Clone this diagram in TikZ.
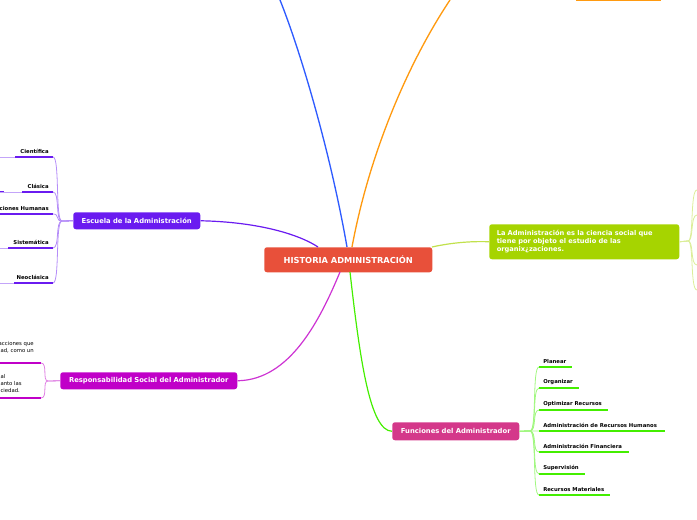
\documentclass[tikz,border=0pt]{standalone}
\usepackage{fontspec}
\setmainfont{DejaVu Sans}
\begin{document}
\begin{tikzpicture}[x=0.75pt,y=-0.75pt,
  box/.style={rounded corners=2pt,text=white,font=\bfseries\fontsize{5.1}{6.2}\selectfont,inner sep=0pt,anchor=north west,align=center},
  leaf/.style={font=\bfseries\fontsize{4}{5}\selectfont,inner sep=0pt},
  ul/.style={line width=1.6pt},
  br/.style={line width=0.6pt}]
\useasboundingbox (0,0) rectangle (697,520);
\clip (0,0) rectangle (697,520);
\definecolor{cred}{HTML}{E8503A}
\definecolor{cpur}{HTML}{6A1BF0}
\definecolor{cmag}{HTML}{C000C8}
\definecolor{cpink}{HTML}{D4388A}
\definecolor{cgrn}{HTML}{44EE00}
\definecolor{cyg}{HTML}{A6D400}
\definecolor{cblu}{HTML}{2E5BFF}
\definecolor{corg}{HTML}{FF9A10}
% main connectors
\coordinate (topb) at (280,0);
\coordinate (topo) at (450,0);
\draw[cblu,line width=1pt] (347,247) .. controls (330,150) and (300,50) .. (topb);
\draw[corg,line width=1pt] (352,247) .. controls (370,150) and (410,60) .. (topo);
\draw[corg,line width=1pt] (576,0) -- (661,0);
% center
\node[box,fill=cred,text width=168*0.75pt,minimum height=25*0.75pt,font=\bfseries\fontsize{6.2}{8}\selectfont] (c) at (264,247) {HISTORIA ADMINISTRACIÓN};
% Escuela
\node[box,fill=cpur,text width=127*0.75pt,minimum height=17*0.75pt] (esc) at (73,212) {Escuela de la Administración};
\draw[cpur,line width=0.9pt] (esc.east) .. controls (260,222) and (300,235) .. (318,247);
\foreach \t/\y/\x in {Científica/157/15,Clásica/192/22,Relaciones Humanas/214/0,Sistemática/248/8,Neoclásica/283/14}{
  \draw[cpur,ul] (\x,\y) -- (53,\y);
  \node[leaf,anchor=south east] at (49,\y-3) {\t};
  \draw[cpur!50,br] (esc.west) -- (62,221) .. controls (55,221) and (60,\y) .. (53,\y);
}
\draw[cpur,ul] (0,192) -- (4,192);
\draw[cpur!40,br] (0,192) -- (22,192);
\draw[cpur!40,br] (0,248) -- (8,248);
\draw[cpur!40,br] (0,283) -- (14,283);
\draw[cpur!40,br] (0,157) -- (15,157);
% Responsabilidad
\node[box,fill=cmag,text width=177*0.75pt,minimum height=17*0.75pt] (res) at (60,372) {Responsabilidad Social del Administrador};
\draw[cmag!80,line width=0.9pt] (res.east) .. controls (290,380) and (320,320) .. (340,272);
\foreach \y in {363,398}{
  \draw[cmag,ul] (0,\y) -- (41,\y);
  \draw[cmag!50,br] (res.west) -- (48,381) .. controls (42,381) and (48,\y) .. (41,\y);
}
\node[leaf,anchor=north east,align=right,font=\fontsize{4}{5.2}\selectfont] at (34,341) {acciones que\\ad, como un};
\node[leaf,anchor=north east,align=left,font=\fontsize{4}{5.2}\selectfont] at (22,374) {al\\anto las\\ciedad.};
% Funciones
\node[box,fill=cpink,text width=127*0.75pt,minimum height=18*0.75pt] (fun) at (392,422) {Funciones del Administrador};
\draw[cgrn,line width=0.9pt] (350,272) .. controls (360,360) and (370,431) .. (fun.west);
\foreach \t/\y/\x in {Planear/367/572,Organizar/388/579,Optimizar Recursos/410/608,Administración de Recursos Humanos/431/665,Administración Financiera/452/629,Supervisión/474/585,Recursos Materiales/495/610}{
  \draw[cgrn,ul] (539,\y) -- (\x,\y);
  \node[leaf,anchor=south west] at (543,\y-3) {\t};
  \draw[cgrn!50,br] (fun.east) -- (530,431) .. controls (537,431) and (532,\y) .. (539,\y);
}
% green box
\node[box,fill=cyg,text width=175*0.75pt,inner xsep=7.5*0.75pt,minimum height=35*0.75pt,align=left,font=\bfseries\fontsize{5}{6}\selectfont] (def) at (489,224) {La Administración es la ciencia social que\\tiene por objeto el estudio de las\\organix¿zaciones.};
\draw[cyg!70,line width=0.9pt] (432,247) .. controls (450,243) and (470,241) .. (def.west);
\foreach \y in {190,215,265,290}{
  \draw[cyg!40,br] (def.east) -- (688,241) .. controls (694,241) and (690,\y) .. (697,\y);
}
\end{tikzpicture}
\end{document}
